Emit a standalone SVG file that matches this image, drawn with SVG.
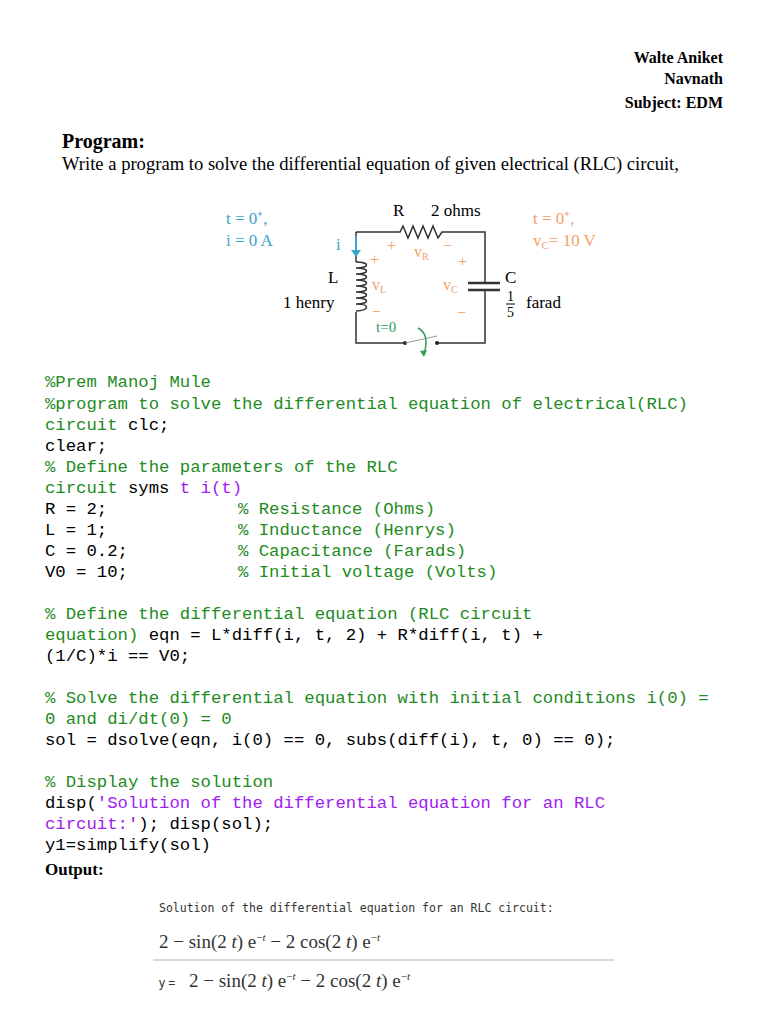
<svg xmlns="http://www.w3.org/2000/svg" width="768" height="1024" viewBox="0 0 768 1024">
<style>
.h{font-family:"Liberation Serif",serif;font-weight:bold;font-size:16px}
.s{font-family:"Liberation Serif",serif;font-size:17px}
.c{font-family:"Liberation Mono",monospace;font-size:17.3px}
.k{fill:#000}.g{fill:#228b22}.p{fill:#a020f0}
.w{stroke:#333;stroke-width:1.5;fill:none}
.o{fill:#f4a06a;font-family:"Liberation Serif",serif;font-size:16px}
.b{fill:#3aa6c8;font-family:"Liberation Serif",serif;font-size:17px}
</style>
<rect width="768" height="1024" fill="#fff"/>
<g id="header" class="h" text-anchor="end">
<text x="723" y="63">Walte Aniket</text>
<text x="723" y="84">Navnath</text>
<text x="723" y="108">Subject: EDM</text>
</g>
<text x="62" y="148" font-family="Liberation Serif,serif" font-weight="bold" font-size="20">Program:</text>
<text x="62" y="170" style="font-family:'Liberation Serif',serif;font-size:18.6px">Write a program to solve the differential equation of given electrical (RLC) circuit,</text>
<g id="circuit">
<path class="w" d="M356 232 H400 l3 -6 l5 12 l5 -12 l5 12 l5 -12 l5 12 l5 -12 l5 12 l4 -6 H485 V283 M485 290 V343 H437 M405 343 H356 V312 M356 262 V232"/>
<path class="w" d="M356 262 c14 0 14 6 0 6 c14 0 14 6 0 6 c14 0 14 6 0 6 c14 0 14 6 0 6 c14 0 14 6 0 6 c14 0 14 6 0 6 c14 0 14 6 0 6 c14 0 14 6 0 7" />
<path stroke="#333" stroke-width="2.5" d="M468 283 H500 M468 290 H500"/>
<circle cx="405" cy="343" r="2" fill="#222"/><circle cx="437" cy="343" r="2" fill="#222"/>
<path stroke="#999" stroke-width="1" d="M405 343 L437 336"/>
<path stroke="#2ca05a" stroke-width="1.5" fill="none" d="M418 328 q12 6 6 26"/>
<path fill="#2ca05a" d="M420 351 l4 6 l3 -7z"/>
<path stroke="#3aa6c8" stroke-width="2" d="M356 236 V252"/><path fill="#3aa6c8" d="M351 250 h10 l-5 7z"/>
<text x="336" y="250" class="b">i</text>
<text x="226" y="224" class="b">t =  0⁺,</text>
<text x="226" y="246" class="b">i =  0 A</text>
<text x="533" y="224" class="o" style="font-size:17px">t =  0⁺,</text>
<text x="533" y="246" class="o" style="font-size:17px">v<tspan style="font-size:11px" dy="3">C</tspan><tspan dy="-3">=  10 V</tspan></text>
<g class="s"><text x="393" y="216">R</text><text x="431" y="216">2 ohms</text>
<text x="328" y="283">L</text><text x="283" y="308">1 henry</text>
<text x="505" y="283">C</text><text x="526" y="308">farad</text>
<text x="507" y="301" style="font-size:14px">1</text><text x="507" y="317" style="font-size:14px">5</text></g>
<path stroke="#000" d="M506 304 H515"/>
<g class="o"><text x="387" y="251">+</text><text x="370" y="265">+</text><text x="414" y="257">v<tspan style="font-size:10px" dy="3">R</tspan></text><text x="443" y="251">−</text><text x="458" y="267">+</text>
<text x="372" y="290">v<tspan style="font-size:10px" dy="3">L</tspan></text><text x="443" y="290">v<tspan style="font-size:10px" dy="3">C</tspan></text><text x="372" y="317">−</text><text x="457" y="318">−</text></g>
<text x="376" y="332" fill="#2ca05a" font-family="Liberation Serif,serif" font-size="15">t=0</text>
</g>
<g id="code" class="c">
<text x="45" y="387" class="g">%Prem Manoj Mule</text>
<text x="45" y="409" class="g">%program to solve the differential equation of electrical(RLC)</text>
<text x="45" y="430"><tspan class="g">circuit</tspan> clc;</text>
<text x="45" y="451">clear;</text>
<text x="45" y="472" class="g">% Define the parameters of the RLC</text>
<text x="45" y="493"><tspan class="g">circuit</tspan> syms <tspan class="p">t i(t)</tspan></text>
<text x="45" y="514">R = 2;</text><text x="238" y="514" class="g">% Resistance (Ohms)</text>
<text x="45" y="535">L = 1;</text><text x="238" y="535" class="g">% Inductance (Henrys)</text>
<text x="45" y="556">C = 0.2;</text><text x="238" y="556" class="g">% Capacitance (Farads)</text>
<text x="45" y="577">V0 = 10;</text><text x="238" y="577" class="g">% Initial voltage (Volts)</text>
<text x="45" y="619" class="g">% Define the differential equation (RLC circuit</text>
<text x="45" y="640"><tspan class="g">equation)</tspan> eqn = L*diff(i, t, 2) + R*diff(i, t) +</text>
<text x="45" y="661">(1/C)*i == V0;</text>
<text x="45" y="703" class="g">% Solve the differential equation with initial conditions i(0) =</text>
<text x="45" y="724" class="g">0 and di/dt(0) = 0</text>
<text x="45" y="745">sol = dsolve(eqn, i(0) == 0, subs(diff(i), t, 0) == 0);</text>
<text x="45" y="787" class="g">% Display the solution</text>
<text x="45" y="808">disp(<tspan class="p">'Solution of the differential equation for an RLC</tspan></text>
<text x="45" y="829"><tspan class="p">circuit:'</tspan>); disp(sol);</text>
<text x="45" y="850">y1=simplify(sol)</text>
</g>
<text x="45" y="875" class="h" style="font-size:17px">Output:</text>
<g id="output">
<text x="159" y="912" font-family="DejaVu Sans Mono,monospace" font-size="11.5" fill="#333">Solution of the differential equation for an RLC circuit:</text>
<text x="159" y="948" font-family="Liberation Serif,serif" font-size="19" fill="#333">2 − sin(2 <tspan font-style="italic">t</tspan>) e<tspan font-size="11" dy="-7">−<tspan font-style="italic">t</tspan></tspan><tspan dy="7"> − 2 cos(2 <tspan font-style="italic">t</tspan>) e</tspan><tspan font-size="11" dy="-7">−<tspan font-style="italic">t</tspan></tspan></text>
<path stroke="#ccc" stroke-width="1.5" d="M153 960 H614"/>
<text x="159" y="987" font-family="Liberation Sans,sans-serif" font-size="12" fill="#333">y  =</text>
<text x="189" y="987" font-family="Liberation Serif,serif" font-size="19" fill="#333">2 − sin(2 <tspan font-style="italic">t</tspan>) e<tspan font-size="11" dy="-7">−<tspan font-style="italic">t</tspan></tspan><tspan dy="7"> − 2 cos(2 <tspan font-style="italic">t</tspan>) e</tspan><tspan font-size="11" dy="-7">−<tspan font-style="italic">t</tspan></tspan></text>
</g>
</svg>
